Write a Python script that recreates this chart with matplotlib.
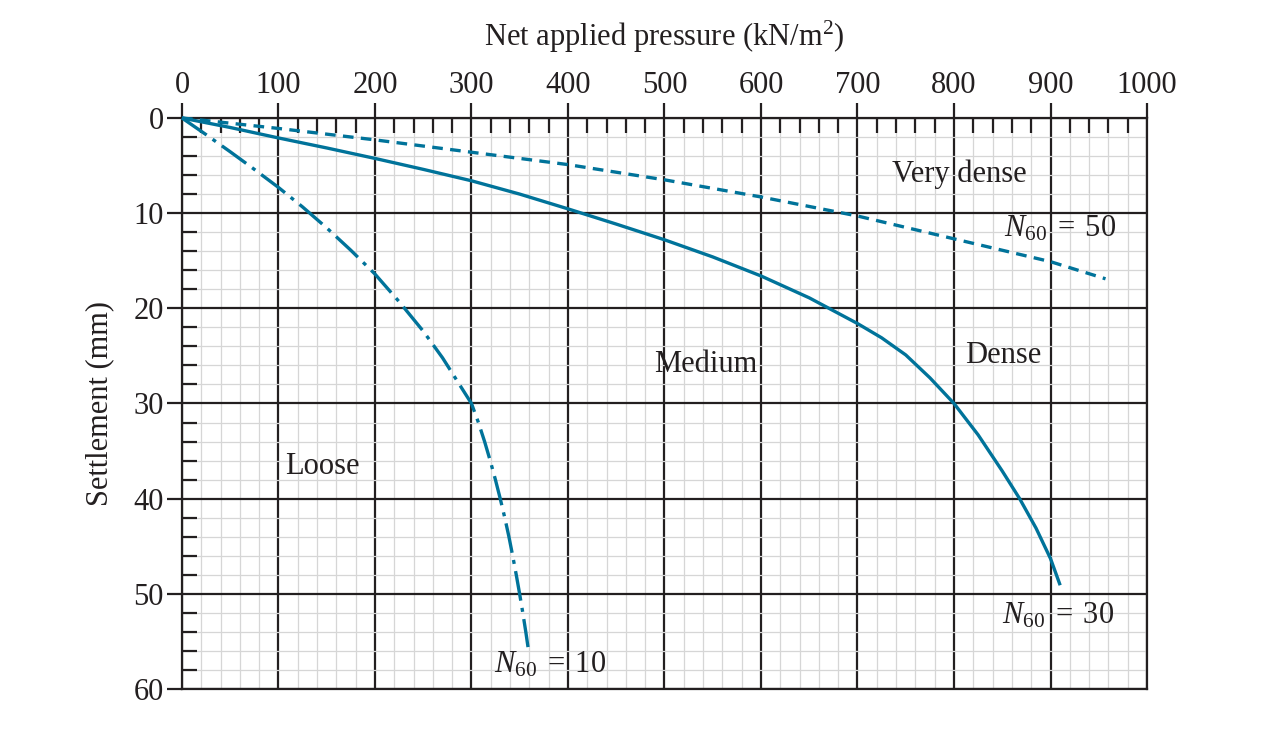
import numpy as np
import matplotlib
matplotlib.use("Agg")
import matplotlib.pyplot as plt
from matplotlib.ticker import MultipleLocator

# ***** DATA *****
# N60 = 10 (loose sand), dash-dot
p_n10 = [0, 25, 50, 75, 100, 125, 150, 175, 200, 225, 250, 270, 285, 300,
         307.2, 313.6, 319.4, 324.8, 329.8, 334.5, 338.8, 342.7, 346.4, 349.9, 353.2, 356.3, 358.6]
s_n10 = [0, 1.75, 3.55, 5.4, 7.3, 9.35, 11.55, 13.9, 16.4, 19.3, 22.4, 25.2, 27.6, 30,
         32, 34, 36, 38, 40, 42, 44, 46, 48, 50, 52, 54, 55.6]

# N60 = 30 (dense sand), solid
p_n30 = [0, 50, 100, 150, 200, 250, 300, 350, 400, 450, 500, 550, 600, 650, 700,
         725, 750, 775, 800, 825, 850, 868, 885, 900, 910]
s_n30 = [0, 1.0, 2.1, 3.15, 4.25, 5.4, 6.6, 8.0, 9.55, 11.15, 12.8, 14.6, 16.6, 18.9, 21.6,
         23.1, 24.9, 27.3, 30.0, 33.3, 37.1, 40.0, 43.1, 46.3, 49.1]

# N60 = 50 (very dense sand), dashed
p_n50 = [0, 100, 200, 300, 400, 500, 600, 700, 800, 900, 957]
s_n50 = [0, 1.1, 2.3, 3.6, 4.9, 6.5, 8.3, 10.3, 12.7, 15.1, 16.9]

zone_labels = ["Very dense", "Medium", "Dense", "Loose"]
zone_pos = [(806, 5.9), (543, 25.9), (851, 25.0), (146, 36.6)]

curve_labels = [r"$N_{60}\;=\;50$", r"$N_{60}\;=\;30$", r"$N_{60}\;=\;10$"]
curve_label_pos = [(910, 11.6), (908, 52.3), (381, 57.5)]

# ***** STYLE *****
plt.rcParams['font.family'] = ['Liberation Serif', 'DejaVu Serif']
plt.rcParams['mathtext.fontset'] = 'custom'
plt.rcParams['mathtext.rm'] = 'Liberation Serif'
plt.rcParams['mathtext.it'] = 'Liberation Serif:italic'

INK = '#231f20'
CURVE = '#00739a'
FS = 22

fig = plt.figure(figsize=(12.67, 7.30), dpi=100)
ax = fig.add_axes([0.1436, 0.0562, 0.9053 - 0.1436, 0.8384 - 0.0562])

ax.set_xlim(0, 1000)
ax.set_ylim(60, 0)

# grid
ax.xaxis.set_major_locator(MultipleLocator(100))
ax.xaxis.set_minor_locator(MultipleLocator(20))
ax.yaxis.set_major_locator(MultipleLocator(10))
ax.yaxis.set_minor_locator(MultipleLocator(2))
ax.grid(which='minor', color='#d6d6d6', linewidth=0.9, zorder=0)
ax.grid(which='major', color=INK, linewidth=1.6, zorder=1)
ax.set_axisbelow(True)

for side in ['top', 'bottom', 'left', 'right']:
    ax.spines[side].set_color(INK)
    ax.spines[side].set_linewidth(1.6)

ax.xaxis.tick_top()
ax.xaxis.set_label_position('top')
ax.tick_params(axis='x', which='major', direction='out', length=11, width=1.6,
               color=INK, labelsize=FS, labelcolor=INK, pad=2, top=True, bottom=False)
ax.tick_params(axis='x', which='minor', direction='in', length=11, width=1.6,
               color=INK, top=True, bottom=False)
ax.tick_params(axis='y', which='major', direction='out', length=11, width=1.6,
               color=INK, labelsize=FS, labelcolor=INK, pad=2, left=True, right=False)
ax.tick_params(axis='y', which='minor', direction='in', length=11, width=1.6,
               color=INK, left=True, right=False)

ax.set_xlabel(r"Net applied pressure (kN/m$^2$)", fontsize=FS, color=INK, labelpad=18)
ax.set_ylabel("Settlement (mm)", fontsize=FS, color=INK, labelpad=14)

# ***** CURVES *****
ax.plot(p_n50, s_n50, color=CURVE, linewidth=2.4, linestyle=(0, (3.2, 2.2)),
        zorder=3, clip_on=False)
ax.plot(p_n30, s_n30, color=CURVE, linewidth=2.4, linestyle='-',
        zorder=3, clip_on=False, solid_capstyle='butt', solid_joinstyle='round')
ax.plot(p_n10, s_n10, color=CURVE, linewidth=2.4, linestyle=(0, (9, 2.2, 1.2, 2.2)),
        zorder=3, clip_on=False)

# ***** TEXT *****
for txt, (x, y) in zip(zone_labels, zone_pos):
    ax.text(x, y, txt, fontsize=FS, color=INK, ha='center', va='center', zorder=4)
for txt, (x, y) in zip(curve_labels, curve_label_pos):
    ax.text(x, y, txt, fontsize=FS, color=INK, ha='center', va='center', zorder=4)

plt.savefig('out.png', dpi=100)
